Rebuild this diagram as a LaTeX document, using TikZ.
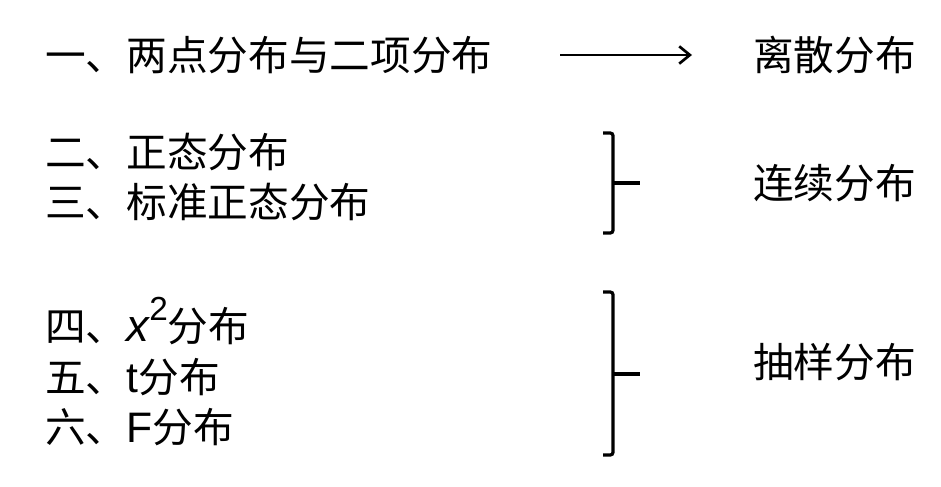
\documentclass[tikz,border=0pt]{standalone}
\usepackage{fontspec}
\setmainfont{Noto Sans CJK SC}
\newfontfamily\latinfont{Liberation Sans}
\usetikzlibrary{arrows.meta}

\begin{document}
\begin{tikzpicture}[x=0.75pt, y=-0.75pt,
    item/.style={anchor=west, inner sep=0pt, font=\fontsize{30.5}{32}\selectfont},
    brace/.style={line width=2.4pt, rounded corners=2pt}]

    \useasboundingbox (0,0) rectangle (941,486);

    % Textos
    \node[item] (uno)    at (45,55)  {一、两点分布与二项分布};
    \node[item] (dos)    at (45,152) {二、正态分布};
    \node[item] (tres)   at (45,202) {三、标准正态分布};
    \node[item] (cuatro) at (45,321) {四、{\latinfont\itshape\fontsize{34}{34}\selectfont x}\raisebox{0.5em}{\latinfont\fontsize{25}{26}\selectfont 2}分布};
    \node[item] (cinco)  at (45,377) {五、{\latinfont\fontsize{32}{32}\selectfont t}分布};
    \node[item] (seis)   at (45,427) {六、{\latinfont\fontsize{32}{32}\selectfont F}分布};

    \node[item] (discreta) at (753,55)  {离散分布};
    \node[item] (continua) at (753,183) {连续分布};
    \node[item] (muestreo) at (753,362) {抽样分布};

    % Flecha
    \coordinate (f1) at (560,55);
    \coordinate (f2) at (692,55);
    \draw[line width=2pt, -{Straight Barb[length=8pt, width=13pt, line width=2pt]}] (f1) -- (f2);

    % Llaves
    \coordinate (a1) at (603,133);
    \coordinate (a2) at (603,233);
    \coordinate (am) at (640,183);
    \draw[brace] (a1) -- (613,133) -- (613,233) -- (a2);
    \draw[line width=2.4pt] (613,183) -- (am);

    \coordinate (b1) at (603,292);
    \coordinate (b2) at (603,455);
    \coordinate (bm) at (640,374);
    \draw[brace] (b1) -- (613,292) -- (613,455) -- (b2);
    \draw[line width=2.4pt] (613,374) -- (bm);

\end{tikzpicture}
\end{document}
